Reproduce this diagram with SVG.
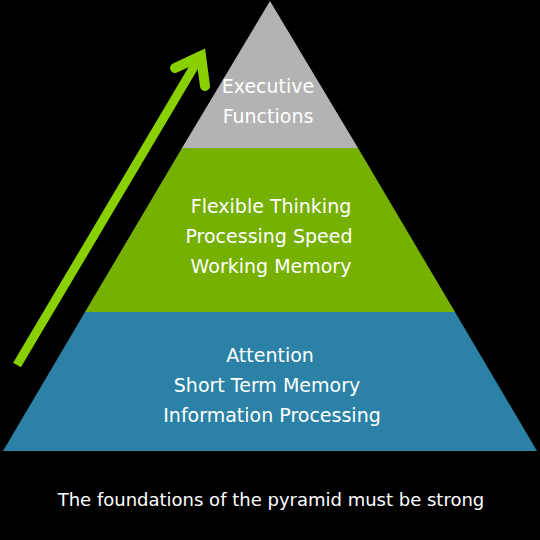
<svg xmlns="http://www.w3.org/2000/svg" width="540" height="540" viewBox="0 0 540 540">
<style>
.t{font-family:"DejaVu Sans","Liberation Sans",sans-serif;font-size:19px;fill:#ffffff;text-anchor:middle}
.c{font-size:18px}
</style>
<rect width="540" height="540" fill="#000000"/>
<g id="layer-top">
<polygon points="270,1 358,148 182,148" fill="#B3B3B3"/>
<text class="t" x="268" y="93">Executive</text>
<text class="t" x="268" y="123">Functions</text>
</g>
<g id="layer-middle">
<polygon points="182,148 358,148 455,312 85,312" fill="#76B000"/>
<text class="t" x="271" y="213">Flexible Thinking</text>
<text class="t" x="269" y="243">Processing Speed</text>
<text class="t" x="271" y="273">Working Memory</text>
</g>
<g id="layer-bottom">
<polygon points="85,312 455,312 537,451 3,451" fill="#2B82A6"/>
<text class="t" x="270" y="362">Attention</text>
<text class="t" x="267" y="392">Short Term Memory</text>
<text class="t" x="272" y="422">Information Processing</text>
</g>
<g id="connectors">
<line x1="17" y1="365" x2="198" y2="60" stroke="#88D000" stroke-width="9"/>
<polyline points="175,68 201,56 205,86" fill="none" stroke="#88D000" stroke-width="10" stroke-linecap="round" stroke-linejoin="miter"/>
</g>
<g id="caption">
<text class="t c" x="271" y="506">The foundations of the pyramid must be strong</text>
</g>
</svg>
